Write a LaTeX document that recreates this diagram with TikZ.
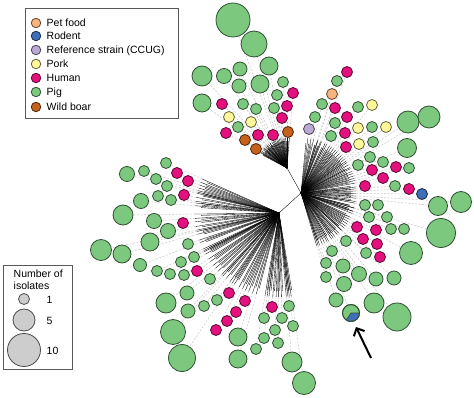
\documentclass[tikz,border=0pt]{standalone}
\usepackage{fontspec}
\setmainfont{Liberation Sans}
\usetikzlibrary{calc,arrows.meta}
\pgfdeclarelayer{bgfill}
\pgfdeclarelayer{leaders}
\pgfdeclarelayer{branches}
\pgfsetlayers{bgfill,leaders,branches,main}
\definecolor{pigc}{HTML}{7DC87F}
\definecolor{humc}{HTML}{E3107D}
\definecolor{porkc}{HTML}{FFF79A}
\definecolor{boarc}{HTML}{C4621C}
\definecolor{refc}{HTML}{B9AAD4}
\definecolor{rodc}{HTML}{3F6FB6}
\definecolor{petc}{HTML}{F8B47E}
\definecolor{sizec}{HTML}{CDCDCD}
\begin{document}
\begin{tikzpicture}[x=1pt,y=-1pt,
  leaf/.style={circle, inner sep=0pt, outer sep=0pt, line width=0.8pt},
  branch/.style={black, line width=0.35pt},
  leader/.style={draw=black!22, line width=0.5pt, dash pattern=on 2pt off 1.5pt},
  lgbox/.style={draw=black!65, line width=0.8pt},
  lgtext/.style={anchor=base west, inner sep=0pt, font=\fontsize{10.5}{12}\selectfont}]
\useasboundingbox (0,0) rectangle (474,398);
\begin{pgfonlayer}{bgfill}
\fill[white] (0,0) rectangle (474,398);
\end{pgfonlayer}

% hubs
\coordinate (T) at (287,168);
\coordinate (R) at (301,193);
\coordinate (L) at (279,213);
\begin{pgfonlayer}{branches}
\draw[branch] (T) -- (R);
\draw[branch] (L) -- (R);
\end{pgfonlayer}

% top cluster
\foreach \px/\py/\d/\c [count=\i] in {
233/20/34/pigc, 254/44/26/pigc, 269/66/18/pigc, 202/76/20/pigc, 224/76/15/pigc,
240/69/14/pigc, 239/86/14/pigc, 260/84/18/pigc, 283/82/11/pigc, 293/93/11/humc,
277/95/11/pigc, 202/103/18/pigc, 222/104/11/humc, 243/104/11/pigc, 256/109/11/pigc,
274/108/11/pigc, 287/106/11/humc, 229/117/11/porkc, 251/122/11/porkc, 282/118/11/humc,
238/127/11/pigc, 226/133/11/humc, 245/140/11/boarc, 258/135/11/humc, 273/135/11/humc,
288/132/11/boarc, 256/149/11/boarc}{
  \node[leaf, fill=\c, draw=\c!40!black, minimum size=\d pt] (t\i) at (\px,\py) {};
  \begin{pgfonlayer}{leaders}
    \draw[leader] ($(T)!30pt!(t\i)$) -- (t\i.center);
  \end{pgfonlayer}
  \begin{pgfonlayer}{branches}
    \draw[branch] (T) -- ($(T)!30pt!(t\i)$);
    \draw[branch] (T) -- ($(T)!27pt!2:(t\i)$);
  \end{pgfonlayer}
}

% right cluster
\foreach \px/\py/\d/\c [count=\i] in {
347/72/11/humc, 337/81/11/pigc, 332/94/11/petc, 322/104/11/pigc, 335/108/11/humc,
358/107/11/pigc, 372/105/11/porkc, 315/117/11/pigc, 347/117/11/humc, 335/123/11/pigc,
358/128/11/porkc, 372/127/11/pigc, 386/127/11/porkc, 408/122/22/pigc, 429/117/22/pigc,
309/129/11/refc, 331/136/11/pigc, 345/133/11/humc, 359/144/11/porkc, 373/142/11/pigc,
346/147/11/humc, 407/148/19/pigc, 370/157/11/pigc, 358/165/11/pigc, 383/162/11/pigc,
396/167/11/humc, 409/168/11/pigc, 372/170/11/humc, 383/178/11/humc, 365/186/11/humc,
395/186/11/pigc, 409/189/11/humc, 422/194/11/rodc, 365/205/11/pigc, 378/205/11/pigc,
438/206/19/pigc, 461/202/21/pigc, 369/217/11/pigc, 387/217/11/pigc, 357/227/11/humc,
376/230/11/humc, 391/229/11/pigc, 404/229/11/pigc, 441/233/29/pigc, 363/239/11/humc,
377/244/11/humc, 346/241/11/pigc, 411/253/23/pigc, 366/253/11/pigc, 380/257/11/humc,
332/251/11/pigc, 326/263/11/pigc, 343/266/14/pigc, 359/274/15/pigc, 376/279/14/pigc,
394/278/14/pigc, 326/277/11/pigc, 344/284/15/pigc, 336/300/14/pigc, 374/303/20/pigc,
397/317/28/pigc, 351/313/17/pigc}{
  \node[leaf, fill=\c, draw=\c!40!black, minimum size=\d pt] (r\i) at (\px,\py) {};
  \begin{pgfonlayer}{leaders}
    \draw[leader] ($(R)!55pt!(r\i)$) -- (r\i.center);
  \end{pgfonlayer}
  \begin{pgfonlayer}{branches}
    \draw[branch] (R) -- ($(R)!55pt!(r\i)$);
    \draw[branch] (R) -- ($(R)!50pt!1.5:(r\i)$);
  \end{pgfonlayer}
}
% rodent share in the mixed circle
\filldraw[fill=rodc, draw=pigc!40!black, line width=0.6pt]
  (r62.center) -- ++(0:8.5pt) arc[start angle=0, end angle=-125, radius=8.5pt] -- cycle;
\draw[draw=pigc!40!black, line width=0.8pt] (r62.center) circle[radius=8.5pt];

% left cluster
\foreach \px/\py/\d/\c [count=\i] in {
166/163/11/pigc, 127/174/15/pigc, 144/171/11/pigc, 156/179/11/pigc, 177/173/11/humc,
188/181/11/humc, 167/186/11/pigc, 158/196/11/pigc, 171/200/11/pigc, 184/195/11/humc,
141/201/15/pigc, 123/215/20/pigc, 154/221/15/pigc, 183/223/11/humc, 168/231/15/pigc,
150/242/18/pigc, 188/244/11/pigc, 101/250/21/pigc, 122/254/18/pigc, 140/265/13/pigc,
181/262/11/pigc, 194/257/11/pigc, 157/271/11/pigc, 170/274/11/pigc, 184/275/11/pigc,
197/271/11/humc, 210/279/11/pigc, 187/293/14/pigc, 229/293/11/humc, 245/301/11/humc,
217/300/11/pigc, 204/306/11/pigc, 166/303/20/pigc, 188/311/14/pigc, 236/312/11/humc,
227/321/11/humc, 216/330/11/humc, 173/332/25/pigc, 238/337/18/pigc, 182/358/27/pigc,
238/359/18/pigc, 256/349/11/pigc, 264/338/11/pigc, 275/330/11/pigc, 278/343/11/pigc,
264/318/11/pigc, 282/318/11/pigc, 293/326/11/pigc, 272/307/11/humc, 289/306/11/pigc,
292/362/20/pigc, 304/383/23/pigc}{
  \node[leaf, fill=\c, draw=\c!40!black, minimum size=\d pt] (l\i) at (\px,\py) {};
  \begin{pgfonlayer}{leaders}
    \draw[leader] ($(L)!84pt!(l\i)$) -- (l\i.center);
  \end{pgfonlayer}
  \begin{pgfonlayer}{branches}
    \draw[branch] (L) -- ($(L)!84pt!(l\i)$);
    \draw[branch] (L) -- ($(L)!78pt!1:(l\i)$);
  \end{pgfonlayer}
}

% arrow
\coordinate (arrtail) at (371,358);
\coordinate (arrhead) at (356,327);
\draw[line width=2pt, -{Straight Barb[length=6pt,width=12pt]}] (arrtail) -- (arrhead);

% colour legend
\draw[lgbox] (25,8) rectangle (178,118);
\foreach \yy/\c/\t [count=\i] in {23/petc/Pet food, 36/rodc/Rodent, 50/refc/Reference strain (CCUG),
  64/porkc/Pork, 78/humc/Human, 92/pigc/Pig, 107/boarc/Wild boar}{
  \node[leaf, fill=\c, draw=\c!40!black, minimum size=9.5pt] (lg\i) at (36,\yy) {};
  \node[lgtext] (lgt\i) at (46.5,\yy+4) {\t};
}

% size legend
\draw[lgbox] (3,265) rectangle (72,369);
\node[lgtext] (sz1) at (13.5,277) {Number of};
\node[lgtext] (sz2) at (13.5,289.5) {isolates};
\node[leaf, fill=sizec, draw=black!70, minimum size=11pt] (sc1) at (24,299) {};
\node[leaf, fill=sizec, draw=black!70, minimum size=22pt] (sc2) at (24,320) {};
\node[leaf, fill=sizec, draw=black!70, minimum size=33pt] (sc3) at (24,350) {};
\node[lgtext] (sn1) at (46.5,303) {1};
\node[lgtext] (sn2) at (46.5,324) {5};
\node[lgtext] (sn3) at (46.5,354.5) {10};
\end{tikzpicture}
\end{document}
